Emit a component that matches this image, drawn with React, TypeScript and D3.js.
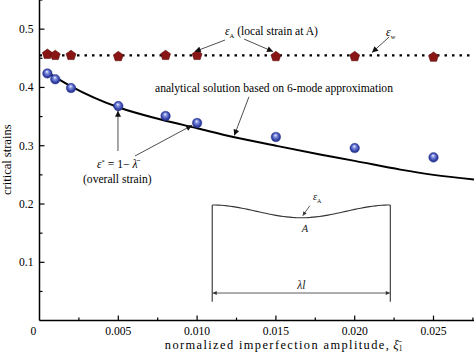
import React from "react";
import * as d3 from "d3";

// ---- data ----
const imperfection = [0.0005, 0.001, 0.002, 0.005, 0.008, 0.010, 0.015, 0.020, 0.025];
const localStrainA = [0.457, 0.455, 0.455, 0.453, 0.455, 0.455, 0.453, 0.453, 0.452];
const overallStrain = [0.424, 0.414, 0.399, 0.368, 0.351, 0.339, 0.315, 0.296, 0.280];
const curveX = [0.0005, 0.002, 0.005, 0.0077, 0.010, 0.0123, 0.015, 0.0178, 0.020, 0.0229, 0.025, 0.0276];
const curveY = [0.426, 0.402, 0.366, 0.345, 0.330, 0.315, 0.300, 0.285, 0.274, 0.259, 0.250, 0.242];
const strainW = 0.455;
const xMajorTicks = [0.005, 0.010, 0.015, 0.020, 0.025];
const xMajorLabels = ["0.005", "0.010", "0.015", "0.020", "0.025"];
const xMinorTicks = [0.0025, 0.0075, 0.0125, 0.0175, 0.0225, 0.0275];
const yMajorTicks = [0.1, 0.2, 0.3, 0.4, 0.5];
const yMajorLabels = ["0.1", "0.2", "0.3", "0.4", "0.5"];
const yMinorTicks = [0.05, 0.15, 0.25, 0.35, 0.45, 0.55];

const W = 474;
const H = 355;
const FONT = "'Liberation Serif', 'Times New Roman', serif";
const FS = 11.6;

export default function App() {
  const x = d3.scaleLinear().domain([0, 0.02757]).range([39.5, 474]);
  const y = d3.scaleLinear().domain([0, 0.55]).range([320.6, 0]);

  const curve = d3
    .line<number>()
    .x((_, i) => x(curveX[i]))
    .y((d) => y(d))
    .curve(d3.curveMonotoneX)(curveY) as string;

  const pent = (cx: number, cy: number, r: number) => {
    const pts: string[] = [];
    for (let k = 0; k < 5; k++) {
      const a = -Math.PI / 2 + (k * 2 * Math.PI) / 5;
      pts.push(`${cx + r * Math.cos(a)},${cy + r * Math.sin(a)}`);
    }
    return "M" + pts.join("L") + "Z";
  };

  // inset (data-space placement)
  const insL = x(0.01096);
  const insR = x(0.02226);
  const insTop = y(0.1983);
  const insDip = y(0.1765);
  const insBot = y(0.0324);
  const dimY = y(0.0473);
  const wave = d3.range(0, 61).map((k) => {
    const t = k / 60;
    const xx = insL + t * (insR - insL);
    const yy = insTop + ((insDip - insTop) * (1 - Math.cos(2 * Math.PI * t))) / 2;
    return [xx, yy] as [number, number];
  });
  const wavePath = d3.line()(wave) as string;

  const axisY = y(0);
  const axisX = x(0);

  return (
    <svg
      width={W}
      height={H}
      style={{ position: "absolute", left: 0, top: 0, background: "#fff" }}
      fontFamily={FONT}
    >
      <defs>
        <radialGradient id="ball" cx="0.5" cy="0.5" r="0.55" fx="0.45" fy="0.3">
          <stop offset="0" stopColor="#ffffff" />
          <stop offset="0.25" stopColor="#8f9ce6" />
          <stop offset="0.7" stopColor="#3444aa" />
          <stop offset="1" stopColor="#1d2775" />
        </radialGradient>
        <marker id="arr" viewBox="0 0 10 10" refX="10" refY="5" markerWidth="7" markerHeight="6" orient="auto" markerUnits="userSpaceOnUse">
          <path d="M0,0L10,5L0,10Z" fill="#111" />
        </marker>
        <marker id="arrS" viewBox="0 0 10 10" refX="10" refY="5" markerWidth="5" markerHeight="4" orient="auto-start-reverse" markerUnits="userSpaceOnUse">
          <path d="M0,0L10,5L0,10Z" fill="#333" />
        </marker>
      </defs>

      {/* axes */}
      <line x1={axisX} y1={0} x2={axisX} y2={axisY} stroke="#000" strokeWidth={1.5} />
      <line x1={axisX} y1={axisY} x2={W} y2={axisY} stroke="#000" strokeWidth={1.5} />
      {xMajorTicks.map((t, i) => (
        <g key={"xm" + i}>
          <line x1={x(t)} x2={x(t)} y1={axisY} y2={axisY - 5} stroke="#000" strokeWidth={1.2} />
          <text x={x(t)} y={axisY + 14} fontSize={FS} textAnchor="middle">
            {xMajorLabels[i]}
          </text>
        </g>
      ))}
      {xMinorTicks.map((t, i) => (
        <line key={"xn" + i} x1={x(t)} x2={x(t)} y1={axisY} y2={axisY - 3} stroke="#000" strokeWidth={1.2} />
      ))}
      <text x={axisX - 6} y={axisY + 14} fontSize={FS} textAnchor="middle">0</text>
      {yMajorTicks.map((t, i) => (
        <g key={"ym" + i}>
          <line x1={axisX} x2={axisX + 5} y1={y(t)} y2={y(t)} stroke="#000" strokeWidth={1.2} />
          <text x={axisX - 6} y={y(t)} dy="0.35em" fontSize={FS} textAnchor="end">
            {yMajorLabels[i]}
          </text>
        </g>
      ))}
      {yMinorTicks.map((t, i) => (
        <line key={"yn" + i} x1={axisX} x2={axisX + 3} y1={y(t)} y2={y(t)} stroke="#000" strokeWidth={1.2} />
      ))}
      <text transform={`translate(10.5,${y(0.276)}) rotate(-90)`} fontSize={12.5} textAnchor="middle">
        critical strains
      </text>
      <text x={x(0.00795)} y={axisY + 28} fontSize={12.4} textLength={224} lengthAdjust="spacing">
        normalized imperfection amplitude,
      </text>
      <text x={x(0.02245)} y={axisY + 28} fontSize={12.6}>
        <tspan fontStyle="italic">ξ̄</tspan>
        <tspan fontSize={7.5} dy={2}>1</tspan>
      </text>

      {/* dotted eps_w line */}
      <line x1={axisX} x2={W} y1={y(strainW)} y2={y(strainW)} stroke="#000" strokeWidth={2.2} strokeDasharray="2.5,5" />

      {/* analytical curve */}
      <path d={curve} fill="none" stroke="#000" strokeWidth={2} />

      {/* pentagons */}
      {imperfection.map((v, i) => (
        <path key={"p" + i} d={pent(x(v), y(localStrainA[i]), 5.2)} fill="#8a1515" stroke="#5a0c0c" strokeWidth={0.6} />
      ))}
      {/* spheres */}
      {imperfection.map((v, i) => (
        <circle key={"b" + i} cx={x(v)} cy={y(overallStrain[i])} r={4.8} fill="url(#ball)" stroke="#2a3590" strokeWidth={0.4} />
      ))}

      {/* annotations */}
      <text x={x(0.01177)} y={y(0.4973)} dy="0.35em" fontSize={FS}>
        <tspan fontStyle="italic">ε</tspan>
        <tspan fontSize={6.5} dy={3}>A</tspan>
        <tspan dy={-3}> (local strain at A)</tspan>
      </text>
      <line x1={x(0.01177)} y1={y(0.4813)} x2={x(0.00985)} y2={y(0.4615)} stroke="#222" strokeWidth={0.8} markerEnd="url(#arr)" />
      <line x1={x(0.01298)} y1={y(0.4830)} x2={x(0.01482)} y2={y(0.4615)} stroke="#222" strokeWidth={0.8} markerEnd="url(#arr)" />

      <text x={x(0.02199)} y={y(0.4960)} dy="0.35em" fontSize={FS}>
        <tspan fontStyle="italic">ε</tspan>
        <tspan fontSize={6.5} dy={3}>w</tspan>
      </text>
      <line x1={x(0.02218)} y1={y(0.4864)} x2={x(0.0211)} y2={y(0.4600)} stroke="#222" strokeWidth={0.8} markerEnd="url(#arr)" />

      <text x={x(0.00733)} y={y(0.3993)} dy="0.35em" fontSize={FS}>
        analytical solution based on 6-mode approximation
      </text>
      <line x1={x(0.01329)} y1={y(0.3839)} x2={x(0.01236)} y2={y(0.3175)} stroke="#222" strokeWidth={0.8} markerEnd="url(#arr)" />

      <text x={x(0.00365)} y={y(0.2686)} dy="0.35em" fontSize={FS}>
        <tspan fontStyle="italic">ε</tspan>
        <tspan fontSize={6.5} dy={-4}>*</tspan>
        <tspan dy={4}> = 1− </tspan>
        <tspan fontStyle="italic">λ̄</tspan>
      </text>
      <text x={x(0.00276)} y={y(0.2429)} dy="0.35em" fontSize={FS}>
        (overall strain)
      </text>
      <line x1={x(0.00498)} y1={y(0.2909)} x2={x(0.00498)} y2={y(0.3600)} stroke="#222" strokeWidth={0.8} markerEnd="url(#arr)" />
      <line x1={x(0.00606)} y1={y(0.2824)} x2={x(0.00968)} y2={y(0.3350)} stroke="#222" strokeWidth={0.8} markerEnd="url(#arr)" />

      {/* inset */}
      <g stroke="#333" strokeWidth={1.1} fill="none">
        <path d={wavePath} />
        <line x1={insL} x2={insL} y1={insTop} y2={insBot} />
        <line x1={insR} x2={insR} y1={insTop} y2={insBot} />
        <line x1={insL + 0.5} x2={insR - 0.5} y1={dimY} y2={dimY} strokeWidth={0.8} markerStart="url(#arrS)" markerEnd="url(#arrS)" />
        <line x1={x(0.01715)} y1={y(0.1970)} x2={x(0.01670)} y2={y(0.1800)} strokeWidth={0.8} markerEnd="url(#arrS)" />
      </g>
      <text x={x(0.01735)} y={y(0.2140)} dy="0.35em" fontSize={10.5} fill="#222">
        <tspan fontStyle="italic">ε</tspan>
        <tspan fontSize={6} dy={3}>A</tspan>
      </text>
      <text x={x(0.01685)} y={y(0.1585)} dy="0.35em" fontSize={10.5} fontStyle="italic" textAnchor="middle" fill="#222">
        A
      </text>
      <text x={(insL + insR) / 2} y={y(0.0610)} dy="0.35em" fontSize={FS} fontStyle="italic" textAnchor="middle" fill="#222">
        λl
      </text>
    </svg>
  );
}
